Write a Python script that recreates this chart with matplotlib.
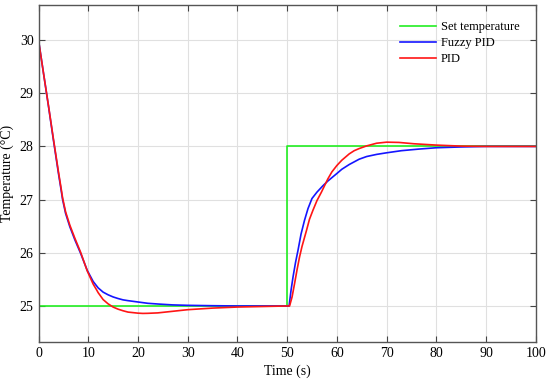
import matplotlib.pyplot as plt
import numpy as np

# set point (step at t = 50 s)
t_set = [0, 50, 50, 100]
y_set = [25, 25, 28, 28]

# Fuzzy PID response
t_fuzzy = [0, 1, 2, 3, 4, 4.5, 4.85, 5.45, 6.3, 7.33, 8.47, 9.8, 11, 12, 13, 14, 15, 16, 17,
           18, 20, 22, 24.3, 27, 30, 35, 40, 50,
           50.4, 50.8, 51.2, 51.7, 52.2, 52.8, 53.5, 54.2, 55.0, 56, 57.2, 58.2, 60, 61, 62.5,
           64.5, 66, 68, 70, 73, 76.5, 80, 85, 90, 100]
y_fuzzy = [30, 29.38, 28.76, 28.12, 27.5, 27.21, 27.0, 26.74, 26.49, 26.24, 25.99, 25.67, 25.46,
           25.34, 25.26, 25.21, 25.17, 25.14, 25.115, 25.10, 25.075, 25.05, 25.035, 25.02,
           25.012, 25.005, 25.0, 25.0,
           25.0, 25.3, 25.55, 25.82, 26.05, 26.35, 26.61, 26.83, 27.02, 27.14, 27.26, 27.35,
           27.49, 27.57, 27.66, 27.76, 27.81, 27.85, 27.88, 27.92, 27.95, 27.975, 27.99, 28.0, 28.0]

# PID response
t_pid = [0, 1, 2, 3, 4, 4.5, 4.85, 5.45, 6.3, 7.33, 8.47, 9.8, 11, 11.7, 12, 13, 14, 15, 16,
         17, 18, 20, 21, 22, 24, 27, 30, 35, 40, 45, 50,
         50.5, 51, 51.5, 52, 52.5, 53, 53.9, 54.5, 55.2, 56, 56.9, 58.2, 59, 60, 61, 62.5, 63.5,
         64.5, 66, 68, 70, 72.5, 75.5, 80, 85, 90, 100]
y_pid = [30, 29.38, 28.77, 28.14, 27.53, 27.24, 27.03, 26.77, 26.52, 26.27, 26.01, 25.66, 25.41,
         25.3, 25.25, 25.12, 25.04, 24.98, 24.94, 24.91, 24.885, 24.865, 24.86, 24.862, 24.87,
         24.9, 24.93, 24.96, 24.98, 24.99, 25.0,
         25.0, 25.17, 25.42, 25.68, 25.92, 26.12, 26.42, 26.63, 26.8, 26.98, 27.14, 27.39,
         27.52, 27.64, 27.74, 27.86, 27.92, 27.96, 28.01, 28.06, 28.08, 28.075, 28.05, 28.025,
         28.006, 28.0, 28.0]

plt.rcParams["font.family"] = ["Liberation Serif", "DejaVu Serif"]

fig = plt.figure(figsize=(5.5, 3.81), dpi=100)
ax = fig.add_axes([0.070, 0.102, 0.904, 0.885])

ax.plot(t_set, y_set, color="#22ee22", lw=1.2, label="Set temperature")
ax.plot(t_fuzzy, y_fuzzy, color="#1515ff", lw=1.2, label="Fuzzy PID")
ax.plot(t_pid, y_pid, color="#ff1515", lw=1.2, label="PID")

ax.set_xlim(0, 100)
ax.set_ylim(24.32, 30.66)
ax.set_xticks(np.arange(0, 101, 10))
ax.set_yticks(np.arange(25, 31, 1))
ax.grid(True, color="#e0e0e0", lw=0.8)
ax.set_axisbelow(True)
ax.tick_params(direction="in", top=True, right=True, labelsize=10, length=4, color="#444444")
for sp in ax.spines.values():
    sp.set_color("#555555")
    sp.set_linewidth(1.0)

ax.set_xlabel("Time (s)", fontsize=10, labelpad=3)
ax.set_ylabel("Temperature (\u00b0C)", fontsize=10, labelpad=4)

ax.legend(loc="upper right", frameon=False, fontsize=9, handlelength=2.9,
          handletextpad=0.35, labelspacing=0.32, borderaxespad=0.9)

fig.savefig("out.png", dpi=100)
